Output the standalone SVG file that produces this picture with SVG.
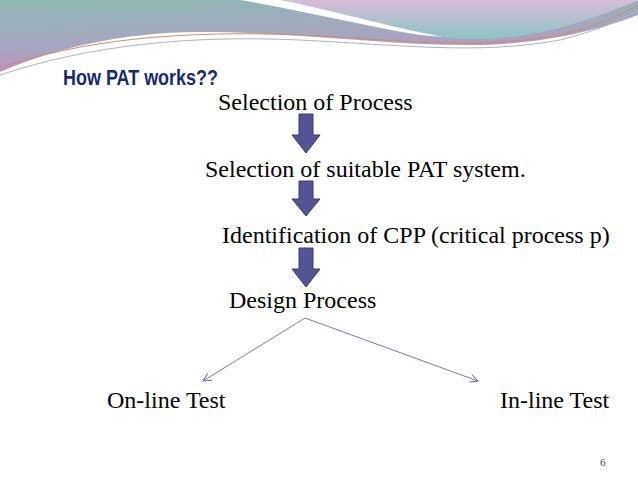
<svg xmlns="http://www.w3.org/2000/svg" width="638" height="478" viewBox="0 0 638 478">
<defs>
<linearGradient id="gl" x1="0" y1="0" x2="0.3" y2="1"><stop offset="0" stop-color="#8fb8b4"/><stop offset="0.6" stop-color="#a6a6c0"/><stop offset="1" stop-color="#c48cc0"/></linearGradient>
<linearGradient id="gr" x1="0" y1="0" x2="0" y2="1"><stop offset="0" stop-color="#d8bcd8"/><stop offset="1" stop-color="#8cc4c4"/></linearGradient>
<marker id="ah" markerWidth="10" markerHeight="10" refX="9" refY="5" orient="auto" markerUnits="userSpaceOnUse"><path d="M1,1 L9,5 L1,9" fill="none" stroke="#6a6aa0" stroke-width="1"/></marker>
<style>
.t{font-family:"Liberation Serif",serif;font-size:24px;fill:#000}
.arr{fill:#545494;stroke:#3a3a70;stroke-width:1}
.c{stroke:#7a7aa8;stroke-width:1;fill:none}
</style>
</defs>
<rect width="638" height="478" fill="#fff"/>
<g id="header">
<path d="M0,0 H638 V15 C600,30 540,45 470,45 C380,45 300,32 200,32 C120,32 50,50 0,72 Z" fill="url(#gl)"/>
<path d="M240,0 C300,10 360,25 420,35 C480,42 560,30 638,0 Z" fill="#fff"/>
<path d="M280,0 C340,12 400,30 450,38 C520,44 580,25 638,0 Z" fill="url(#gr)"/>
<path d="M0,68 C80,40 180,30 300,35 C400,40 480,50 560,35 C600,25 620,15 638,5" fill="none" stroke="#c89070" stroke-width="1"/>
<path d="M0,75 C90,45 190,35 300,40 C400,45 480,55 560,40 C600,30 620,20 638,10" fill="none" stroke="#b0b0c8" stroke-width="1"/>
</g>
<g id="title"><text x="63" y="85" font-family="Liberation Sans Narrow,Liberation Sans,sans-serif" font-size="22" font-weight="bold" fill="#1a2a6a" textLength="155" lengthAdjust="spacingAndGlyphs">How PAT works??</text></g>
<g id="n1"><text class="t" x="218" y="110">Selection of Process</text></g>
<g id="n2"><text class="t" x="205" y="177">Selection of suitable PAT system.</text></g>
<g id="n3"><text class="t" x="222" y="243">Identification of CPP (critical process p)</text></g>
<g id="n4"><text class="t" x="229" y="308">Design Process</text></g>
<g id="n5"><text class="t" x="107" y="408">On-line Test</text></g>
<g id="n6"><text class="t" x="500" y="408">In-line Test</text></g>
<g id="page"><text x="600" y="466" font-family="Liberation Serif,serif" font-size="11" fill="#444">6</text></g>
<g id="connectors">
<path class="arr" d="M299,114 H313 V135 H320 L306,153 L292,135 H299 Z"/>
<path class="arr" d="M299,181 H313 V199 H320 L306,216 L292,199 H299 Z"/>
<path class="arr" d="M299,248 H313 V269 H320 L306,287 L292,269 H299 Z"/>
<line class="c" x1="305" y1="318" x2="203" y2="381" marker-end="url(#ah)"/>
<line class="c" x1="305" y1="318" x2="478" y2="381" marker-end="url(#ah)"/>
</g>
</svg>
